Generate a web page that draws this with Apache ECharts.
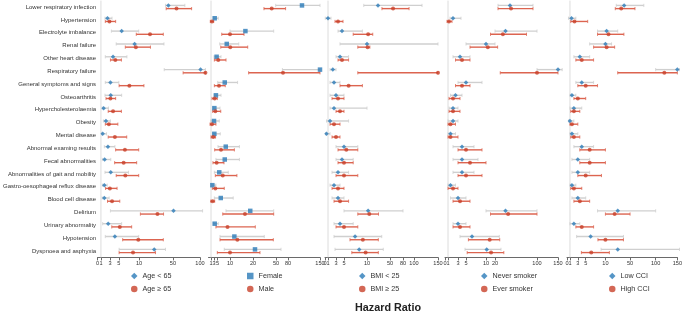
<!DOCTYPE html>
<html>
<head>
<meta charset="utf-8">
<script src="https://cdn.jsdelivr.net/npm/echarts@6/dist/echarts.min.js"></script>
<style>
  html, body { margin: 0; padding: 0; background: #fff; }
  #chart { width: 685px; height: 312px; }
</style>
</head>
<body>
<div id="chart"></div>
<script>
// outcomes, top to bottom
const outcomes = [
  'Lower respiratory infection', 'Hypertension', 'Electrolyte imbalance', 'Renal failure',
  'Other heart disease', 'Respiratory failure', 'General symptoms and signs', 'Osteoarthritis',
  'Hypercholesterolaemia', 'Obesity', 'Mental disease', 'Abnormal examing results',
  'Fecal abnormalities', 'Abnormalities of gait and mobility', 'Gastro-oesophageal reflux disease',
  'Blood cell disease', 'Delirium', 'Urinary abnormality', 'Hypotension', 'Dyspnoea and asphyxia'
];

// hazard ratio [estimate, lower, upper] per outcome
const ageYoung = [[44.6,41.2,72],[2.43,1.88,3.44],[5.7,3.29,9.9],[8.9,4.4,39.4],[3.67,1.95,7.0],[101,39.7,110],[3.07,1.95,5],[3.15,1.88,5.7],[1.59,1.25,2.64],[2.09,1.53,3.07],[1.38,1.17,2.22],[2.52,1.74,4.1],[1.8,1.32,3.15],[3.15,1.88,7.4],[1.74,1.32,2.37],[1.74,1.25,2.79],[51,3.07,104.8],[2.58,1.38,5.7],[4.1,1.95,9.9],[27.9,5.07,41.2]];
const ageOld = [[56.6,42,84.5],[2.85,1.95,4.27],[22.9,9.3,38.6],[9.2,6.6,23.4],[4.2,3.07,5.64],[110,68.8,110],[7.6,5.07,15.7],[3.07,2.1,4.27],[3.67,2.58,5.64],[2.73,1.95,4.78],[4.1,2.58,6.95],[6.5,4.27,9.9],[6.19,4.04,9.4],[6.6,4.4,9.9],[2.94,2.0,4.6],[3.44,2.43,5.24],[31.7,11.5,38.9],[5.24,3.38,8.17],[9.8,5.95,38.6],[8.5,5.07,29.4]];
const female = [[110.6,49.6,150],[3.4,2.53,5.3],[16.7,10,47],[8.7,5.9,13.8],[4.5,3,6.4],[150,66,150],[7.9,5.1,13.3],[4.1,3,6.4],[3.2,2.5,6.0],[3.0,0.9,5.7],[3.2,2.1,6.1],[8.3,5.2,14.1],[7.9,4.1,14.1],[5.7,3.2,9.3],[1.9,1.2,4.1],[6.3,3.2,11.4],[18.8,8.4,47],[3.4,2.5,5.3],[11.9,6.0,34.7],[22.6,7.7,62.5]];
const male = [[44.4,34.3,74],[1.67,0.72,2.8],[10,6.7,16.1],[10.1,6.3,17.7],[5.3,3.2,8.4],[67.5,18.1,150],[5.6,3.2,8.1],[3.4,1.67,4.9],[3.75,2.1,6.3],[1.67,0.6,4.1],[2.5,1,3.9],[6.4,3.4,11.9],[4.5,2.3,7.6],[7.1,3.75,13.0],[3.75,1.9,7.7],[2.1,0.9,3.4],[16.5,7.1,47],[9.0,4.1,23],[13.2,6.0,46.5],[10,4.9,29.1]];
const bmiLow = [[29.1,9.3,116.7],[1,0.1,1.75],[4.5,3.5,9],[10,4,150],[4,3,6],[2.2,1.5,3],[2.5,1.5,4],[3,1.5,5],[2.5,1.5,10],[1.5,0.5,6],[0.5,0.2,1.5],[5,3,8],[4.5,3,7],[3.5,2,6],[2.5,1.5,4],[3.5,2,5],[12,5,80],[4,2.5,7],[7.4,2.5,35.6],[8.3,2.75,38.3]];
const bmiHigh = [[57,36,91],[3.5,2.75,4.75],[12,7,20],[11,8,15],[4.5,3.5,6],[150,8,150],[6,4,9],[3.5,2,5],[4,3,5],[2.5,1.5,4],[3,2,4],[5.5,3.5,8],[5,3.5,7],[5,3,8],[3.5,2,5],[4,2.5,6],[14,8,30],[5,3,8],[9.1,6.3,29.7],[9.7,6.7,29.7]];
const neverSmoker = [[48.6,25.7,92.4],[2,1.4,3.75],[40,20,100],[10,5,20],[3.5,2,6],[150,100,160],[5,3,9],[2.5,1.5,4],[2,1.2,3],[2,1,3],[1.5,1,2.5],[4,2,7],[4,2,8],[4,2,7],[1.5,1,2.5],[3,1.5,5],[40,10,100],[3,2,5],[6.5,3.5,28.2],[10.8,4.75,31.4]];
const everSmoker = [[50.5,25.7,92.4],[1.2,0.67,1.8],[35,15,80],[12,6,25],[4,2.5,6],[100,30,150],[4,2.5,6],[2,1.2,3.5],[2,1.2,3.5],[1.5,1,2.5],[1.5,1,3],[5,3,9],[6,3,10],[5,3,9],[2,1,3],[3.5,2,6],[45,15,100],[3.5,2,6],[14.1,5.6,29],[15.6,5.3,36.8]];
const lowCci = [[40.4,27.6,76.9],[1.4,0.5,2.5],[12,8,30],[10,6,20],[3.5,2,6],[150,100,155],[4,2.5,7],[1.5,1,2.5],[2,1,4],[1,0.5,2],[1.5,1,3],[4,2,7],[3,1.5,6],[3,1.5,6],[1.5,1,2.5],[3,1.5,5],[30,8,100],[2,1,3.5],[6.25,2.7,39.3],[30,8.9,155]];
const highCci = [[35.6,26,59.6],[2.15,1.2,5.5],[15,8,40],[12,7,25],[4,2.5,7],[120,30,150],[5,3,8],[3,2,5],[2,1.2,3.5],[1.5,1,3],[2,1.2,3.5],[6,3.5,10],[6,3.5,10],[5,3,9],[2,1.2,4],[3.5,2,6],[25,10,50],[4,2.5,7],[10,8.1,39.3],[6.4,3.9,16.4]];

// tick labels of each panel's axis
const ticksAge = [0, 1, 3, 5, 10, 50, 100];
const ticksSex = [1, 3, 5, 10, 20, 50, 80, 150];
const ticksBmi = [0, 1, 3, 5, 10, 50, 80, 100, 150];
const ticksSmoke = [0, 1, 3, 5, 10, 20, 100, 150];
const ticksCci = [0, 1, 3, 5, 10, 50, 100, 150];

const BLUE = '#2a7ab8';
const RED = '#c8412b';
const FONT = 'Liberation Sans, Arial, sans-serif';

// each axis is stretched piecewise: breaks (values) sit at stops (px from axis start)
const panels = [
  { left: 94, breaks: [0,1,3,5,10,50,100], stops: [0,3.5,13,22,43,78,106], ticks: ticksAge,
    legendLeft: 126, icon: 'diamond', names: ['Age < 65', 'Age ≥ 65'], sets: [ageYoung, ageOld] },
  { left: 208.5, breaks: [0,1,3,5,10,20,50,80,150], stops: [0,2.5,5.5,9,21.5,44.5,67.5,79.5,111.5], ticks: ticksSex,
    legendLeft: 242, icon: 'rect', names: ['Female', 'Male'], sets: [female, male] },
  { left: 325, breaks: [0,1,3,5,10,50,80,100,150], stops: [0,3,11,19,42,65,78,89,113], ticks: ticksBmi,
    legendLeft: 354, icon: 'diamond', names: ['BMI < 25', 'BMI ≥ 25'], sets: [bmiLow, bmiHigh] },
  { left: 445, breaks: [0,1,3,5,10,20,100,150], stops: [0,3,13,21,41,50,92,113], ticks: ticksSmoke,
    legendLeft: 476, icon: 'diamond', names: ['Never smoker', 'Ever smoker'], sets: [neverSmoker, everSmoker] },
  { left: 567, breaks: [0,1,3,5,10,50,100,150], stops: [0,3,11,19,39,64,90,112], ticks: ticksCci,
    legendLeft: 604, icon: 'diamond', names: ['Low CCI', 'High CCI'], sets: [lowCci, highCci] }
];

function stretch(p, v) {
  const b = p.breaks, s = p.stops;
  let i = 0;
  while (i < b.length - 2 && v > b[i + 1]) i++;
  return s[i] + (v - b[i]) * (s[i + 1] - s[i]) / (b[i + 1] - b[i]);
}

const chart = echarts.init(document.getElementById('chart'));

const grids = [], xAxes = [], yAxes = [], series = [], legends = [];

panels.forEach((p, k) => {
  const width = p.stops[p.stops.length - 1];
  grids.push({ left: p.left, width: width, top: 0.6, height: 256.8 });
  const tickPos = p.ticks.map(t => stretch(p, t));
  const labelOf = {};
  tickPos.forEach((x, i) => { labelOf[x.toFixed(2)] = String(p.ticks[i]); });
  xAxes.push({
    type: 'value', gridIndex: k, min: 0, max: width,
    splitLine: { show: false },
    axisLine: { show: true, onZero: false, lineStyle: { color: '#6a6a6a', width: 1 } },
    axisTick: { show: true, customValues: tickPos, length: 3, lineStyle: { color: '#6a6a6a' } },
    axisLabel: {
      customValues: tickPos, fontSize: 5.6, color: '#333', margin: 3, fontFamily: FONT,
      formatter: v => labelOf[v.toFixed(2)] || ''
    }
  });
  yAxes.push({
    type: 'category', gridIndex: k, data: outcomes, inverse: true,
    axisLine: { show: false }, axisTick: { show: false }, splitLine: { show: false },
    axisLabel: { show: k === 0, fontSize: 6, color: '#333', margin: 1.5, fontFamily: FONT }
  });

  // reference line at HR = 1
  series.push({
    type: 'custom', name: 'ref' + k, xAxisIndex: k, yAxisIndex: k, silent: true, z: 1,
    data: [[stretch(p, 1), 0]],
    renderItem: (params, api) => {
      const x = api.coord([api.value(0), 0])[0];
      const cs = params.coordSys;
      return { type: 'line', shape: { x1: x, y1: cs.y, x2: x, y2: cs.y + cs.height },
        style: { stroke: '#dcdcdc', lineWidth: 1 } };
    }
  });

  const barColors = ['#cfcfcf', '#dc6450'];
  const offsets = [-1.6, 1.6];
  p.sets.forEach((set, g) => {
    series.push({
      type: 'custom', name: p.names[g] + ' CI', xAxisIndex: k, yAxisIndex: k,
      clip: false, silent: true, z: 2 + g,
      data: set.map((d, i) => [stretch(p, d[1]), i, stretch(p, d[2])]),
      renderItem: (params, api) => {
        const a = api.coord([api.value(0), api.value(1)]);
        const b = api.coord([api.value(2), api.value(1)]);
        const y = a[1] + offsets[g];
        const st = { stroke: barColors[g], lineWidth: 0.8 };
        return {
          type: 'group', children: [
            { type: 'line', shape: { x1: a[0], y1: y, x2: b[0], y2: y }, style: { stroke: barColors[g], lineWidth: 1.4 } },
            { type: 'line', shape: { x1: a[0], y1: y - 1.6, x2: a[0], y2: y + 1.6 }, style: st },
            { type: 'line', shape: { x1: b[0], y1: y - 1.6, x2: b[0], y2: y + 1.6 }, style: st }
          ]
        };
      }
    });
  });
  p.sets.forEach((set, g) => {
    series.push({
      type: 'scatter', name: p.names[g], xAxisIndex: k, yAxisIndex: k, clip: false, z: 5,
      symbol: g === 0 ? (p.icon === 'rect' ? 'rect' : 'diamond') : 'circle',
      symbolSize: g === 0 ? 4.5 : 4, symbolOffset: [0, offsets[g]],
      itemStyle: { color: g === 0 ? BLUE : RED },
      data: set.map((d, i) => [stretch(p, d[0]), i])
    });
  });
  legends.push({
    orient: 'vertical', left: p.legendLeft, top: 267, itemGap: 5, itemWidth: 6.5, itemHeight: 6.5,
    selectedMode: false,
    textStyle: { fontSize: 7.2, color: '#333', lineHeight: 8, fontFamily: FONT },
    data: [
      { name: p.names[0], icon: p.icon, itemStyle: { color: BLUE } },
      { name: p.names[1], icon: 'circle', itemStyle: { color: RED } }
    ]
  });
});

chart.setOption({
  animation: false,
  title: {
    text: 'Hazard Ratio', left: 350, top: 298,
    textStyle: { fontSize: 10.8, fontWeight: 'bold', color: '#222', fontFamily: FONT }
  },
  grid: grids,
  xAxis: xAxes,
  yAxis: yAxes,
  legend: legends,
  series: series
});
</script>
</body>
</html>
